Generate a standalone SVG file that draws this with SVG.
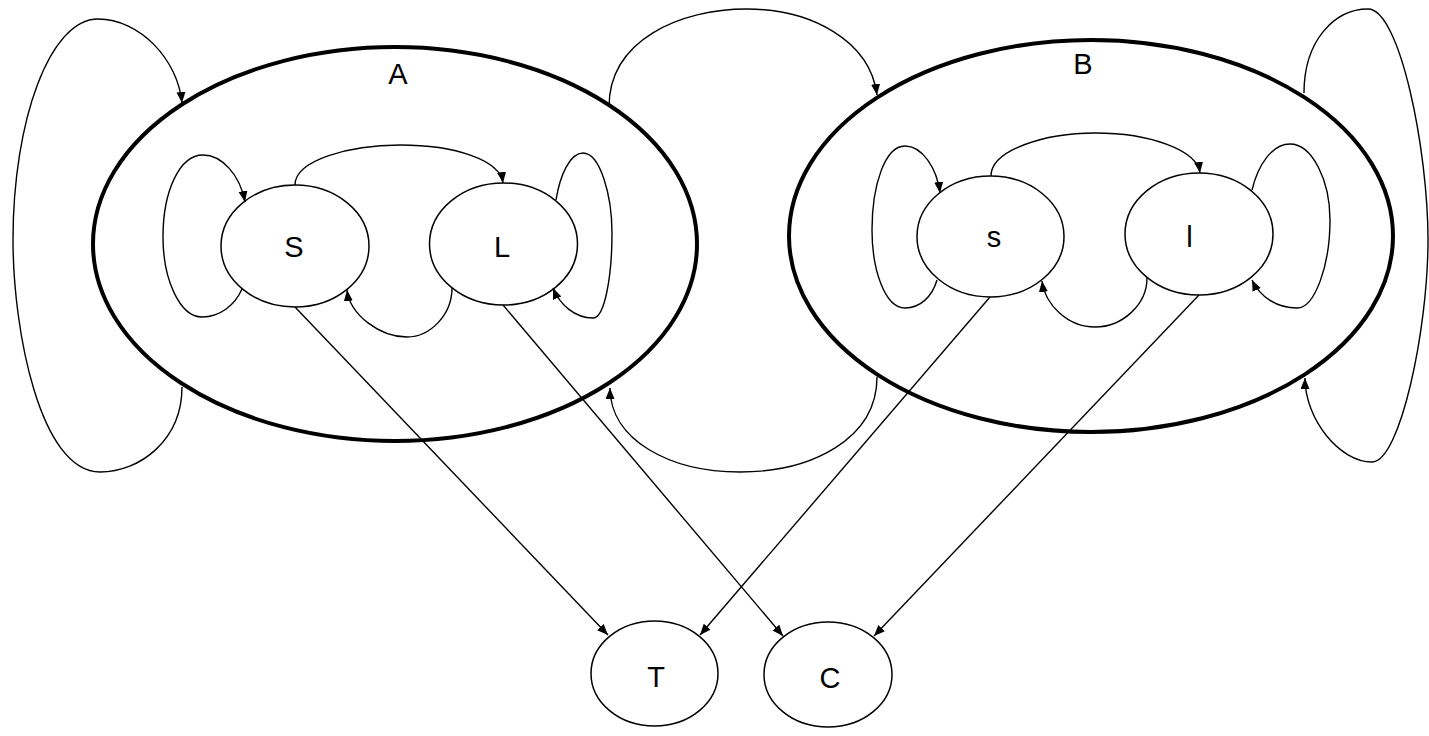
<svg xmlns="http://www.w3.org/2000/svg" width="1429" height="736" viewBox="0 0 1429 736">
<style>
.big{fill:#fff;stroke:#000;stroke-width:4}
.node{fill:#fff;stroke:#000;stroke-width:1.5}
.lbl{font-family:"Liberation Sans",Arial,sans-serif;font-size:29px;fill:#000;text-anchor:middle}
.e{fill:none;stroke:#000;stroke-width:1.4;marker-end:url(#ah)}
</style>
<defs>
<marker id="ah" markerUnits="userSpaceOnUse" markerWidth="12" markerHeight="10" refX="11" refY="4.5" orient="auto">
<path d="M0,0 L11,4.5 L0,9 z" fill="#000"/>
</marker>
</defs>
<rect width="1429" height="736" fill="#fff"/>
<g id="A"><ellipse class="big" cx="395" cy="244" rx="302" ry="197"/><text class="lbl" x="398" y="84">A</text></g>
<g id="B"><ellipse class="big" cx="1091" cy="236" rx="302" ry="196"/><text class="lbl" x="1083" y="74">B</text></g>
<g id="S"><ellipse class="node" cx="295" cy="246" rx="74" ry="61"/><text class="lbl" x="294" y="257">S</text></g>
<g id="L"><ellipse class="node" cx="503.5" cy="244" rx="74" ry="61"/><text class="lbl" x="502" y="257">L</text></g>
<g id="s"><ellipse class="node" cx="990.5" cy="236.5" rx="73.5" ry="60.5"/><text class="lbl" x="994" y="247">s</text></g>
<g id="l"><ellipse class="node" cx="1199" cy="234" rx="74" ry="61"/><text class="lbl" x="1189.5" y="247">l</text></g>
<g id="T"><ellipse class="node" cx="654.5" cy="673.5" rx="63.5" ry="52.5"/><text class="lbl" x="656" y="687">T</text></g>
<g id="C"><ellipse class="node" cx="828" cy="674.5" rx="64" ry="52.5"/><text class="lbl" x="830" y="688">C</text></g>
<g id="connectors">
<path class="e" d="M182,387 C182,440 140,472 100,472 C40,472 13,330 13,240 C13,120 50,19 98,19 C140,19 178,60 182,103"/>
<path class="e" d="M609,107 C609,40 680,9 747,9 C810,9 870,40 877,95"/>
<path class="e" d="M877,377 C877,440 810,472 740,472 C670,472 610,440 610,388"/>
<path class="e" d="M1304,93 C1304,40 1335,9 1368,9 C1400,9 1428,150 1428,240 C1428,330 1400,462 1372,462 C1340,462 1305,420 1305,378"/>
<path class="e" d="M242,289 C235,305 220,317 202,317 C180,317 163,280 163,237 C163,190 180,155 203,155 C222,155 240,175 245,202"/>
<path class="e" d="M295,185 C295,160 350,145 400,145 C455,145 500,160 503,183"/>
<path class="e" d="M452,288 C452,315 430,337 407,337 C380,337 350,315 347,290"/>
<path class="e" d="M556,200 C560,175 570,153 583,153 C600,153 612,195 612,233 C612,275 605,318 593,318 C575,318 560,305 553,288"/>
<path class="e" d="M937,280 C932,297 920,308 905,308 C885,308 872,270 872,230 C872,185 885,146 905,146 C922,146 937,168 940,193"/>
<path class="e" d="M991,176 C991,150 1045,133 1095,133 C1150,133 1197,150 1200,173"/>
<path class="e" d="M1147,278 C1147,305 1122,327 1095,327 C1068,327 1045,305 1042,281"/>
<path class="e" d="M1252,190 C1258,165 1272,144 1290,144 C1312,144 1330,180 1330,220 C1330,265 1315,308 1297,308 C1277,308 1260,297 1252,280"/>
<path class="e" d="M295,307 L608,635"/>
<path class="e" d="M503,305 L783,636"/>
<path class="e" d="M990,297 L700,635"/>
<path class="e" d="M1199,295 L874,636"/>
</g>
</svg>
